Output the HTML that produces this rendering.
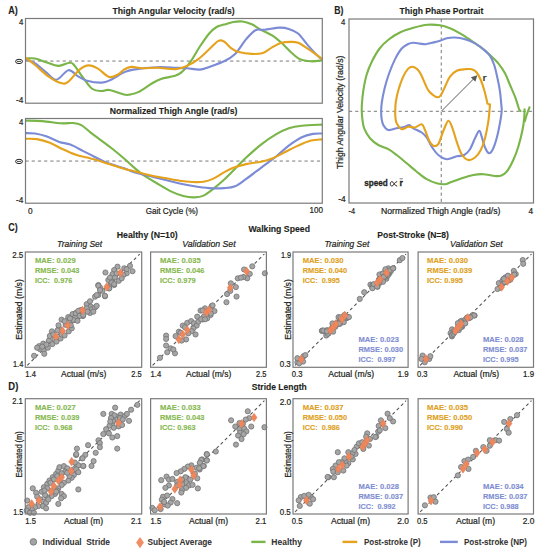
<!DOCTYPE html>
<html><head><meta charset="utf-8"><style>
html,body{margin:0;padding:0;background:#fff;width:540px;height:550px;overflow:hidden}
svg{display:block;font-family:"Liberation Sans", sans-serif}
</style></head><body>
<svg width="540" height="550" viewBox="0 0 540 550">
<text x="8.20" y="14.00" font-size="10.5" font-weight="bold" font-style="normal" fill="#231f20" stroke="#231f20" stroke-width="0.12" textLength="9.60" lengthAdjust="spacingAndGlyphs">A)</text>
<text x="334.20" y="13.90" font-size="10.5" font-weight="bold" font-style="normal" fill="#231f20" stroke="#231f20" stroke-width="0.12" textLength="9.20" lengthAdjust="spacingAndGlyphs">B)</text>
<text x="8.30" y="230.60" font-size="10.5" font-weight="bold" font-style="normal" fill="#231f20" stroke="#231f20" stroke-width="0.12" textLength="9.50" lengthAdjust="spacingAndGlyphs">C)</text>
<text x="8.30" y="390.00" font-size="10.5" font-weight="bold" font-style="normal" fill="#231f20" stroke="#231f20" stroke-width="0.12" textLength="10.00" lengthAdjust="spacingAndGlyphs">D)</text>
<text x="112.50" y="14.40" font-size="9.6" font-weight="bold" font-style="normal" fill="#231f20" stroke="#231f20" stroke-width="0.12" textLength="122.20" lengthAdjust="spacingAndGlyphs">Thigh Angular Velocity (rad/s)</text>
<text x="109.70" y="114.40" font-size="9.6" font-weight="bold" font-style="normal" fill="#231f20" stroke="#231f20" stroke-width="0.12" textLength="127.80" lengthAdjust="spacingAndGlyphs">Normalized Thigh Angle (rad/s)</text>
<line x1="25.5" y1="61.050000000000004" x2="322.3" y2="61.050000000000004" stroke="#6a6a6a" stroke-width="0.9" stroke-dasharray="3.2,3.0"/>
<text x="19.00" y="24.50" font-size="8.8" font-weight="normal" font-style="normal" fill="#231f20" stroke="#231f20" stroke-width="0.22" textLength="4.30" lengthAdjust="spacingAndGlyphs">4</text>
<text x="16.00" y="102.60" font-size="8.8" font-weight="normal" font-style="normal" fill="#231f20" stroke="#231f20" stroke-width="0.22" textLength="7.30" lengthAdjust="spacingAndGlyphs">-4</text>
<ellipse cx="19.05" cy="61.45" rx="3.45" ry="2.15" fill="none" stroke="#231f20" stroke-width="1.0"/>
<line x1="17.0" y1="61.45" x2="21.1" y2="61.45" stroke="#231f20" stroke-width="0.8"/>
<line x1="25.5" y1="161.04999999999998" x2="322.3" y2="161.04999999999998" stroke="#6a6a6a" stroke-width="0.9" stroke-dasharray="3.2,3.0"/>
<text x="19.00" y="124.50" font-size="8.8" font-weight="normal" font-style="normal" fill="#231f20" stroke="#231f20" stroke-width="0.22" textLength="4.30" lengthAdjust="spacingAndGlyphs">4</text>
<text x="16.00" y="202.60" font-size="8.8" font-weight="normal" font-style="normal" fill="#231f20" stroke="#231f20" stroke-width="0.22" textLength="7.30" lengthAdjust="spacingAndGlyphs">-4</text>
<ellipse cx="19.05" cy="161.45" rx="3.45" ry="2.15" fill="none" stroke="#231f20" stroke-width="1.0"/>
<line x1="17.0" y1="161.45" x2="21.1" y2="161.45" stroke="#231f20" stroke-width="0.8"/>
<text x="28.00" y="213.70" font-size="8.8" font-weight="normal" font-style="normal" fill="#231f20" stroke="#231f20" stroke-width="0.22" textLength="4.60" lengthAdjust="spacingAndGlyphs">0</text>
<text x="309.40" y="213.30" font-size="8.8" font-weight="normal" font-style="normal" fill="#231f20" stroke="#231f20" stroke-width="0.22" textLength="13.50" lengthAdjust="spacingAndGlyphs">100</text>
<text x="145.70" y="213.60" font-size="9.0" font-weight="normal" font-style="normal" fill="#231f20" stroke="#231f20" stroke-width="0.22" textLength="52.40" lengthAdjust="spacingAndGlyphs">Gait Cycle (%)</text>
<path d="M25.50,58.50 C27.10,58.50 31.65,57.88 35.10,58.50 C38.55,59.12 42.33,60.97 46.20,62.20 C50.07,63.43 54.43,65.80 58.30,65.90 C62.17,66.00 66.78,62.95 69.40,62.80 C72.02,62.65 71.68,62.47 74.00,65.00 C76.32,67.53 80.22,74.00 83.30,78.00 C86.38,82.00 89.42,86.83 92.50,89.00 C95.58,91.17 99.02,90.83 101.80,91.00 C104.58,91.17 105.50,89.40 109.20,90.00 C112.90,90.60 120.60,93.83 124.00,94.60 C127.40,95.37 127.13,95.05 129.60,94.60 C132.07,94.15 135.10,93.75 138.80,91.90 C142.50,90.05 148.10,85.67 151.80,83.50 C155.50,81.33 157.30,80.13 161.00,78.90 C164.70,77.67 170.60,77.18 174.00,76.10 C177.40,75.02 178.62,74.87 181.40,72.40 C184.18,69.93 187.62,65.62 190.70,61.30 C193.78,56.98 196.82,51.13 199.90,46.50 C202.98,41.87 206.42,36.75 209.20,33.50 C211.98,30.25 214.13,28.48 216.60,27.00 C219.07,25.52 221.22,25.43 224.00,24.60 C226.78,23.77 230.22,22.52 233.30,22.00 C236.38,21.48 239.42,21.12 242.50,21.50 C245.58,21.88 248.72,22.92 251.80,24.30 C254.88,25.68 257.62,27.95 261.00,29.80 C264.38,31.65 268.70,33.23 272.10,35.40 C275.50,37.57 278.30,40.03 281.40,42.80 C284.50,45.57 287.62,49.28 290.70,52.00 C293.78,54.72 296.52,57.55 299.90,59.10 C303.28,60.65 307.32,61.08 311.00,61.30 C314.68,61.52 320.17,60.55 322.00,60.40" fill="none" stroke="#79b548" stroke-width="2.1" stroke-linejoin="round" stroke-linecap="butt" />
<path d="M25.50,59.40 C27.10,60.08 31.65,61.33 35.10,63.50 C38.55,65.67 42.65,69.68 46.20,72.40 C49.75,75.12 52.70,80.17 56.40,79.80 C60.10,79.43 64.85,70.82 68.40,70.20 C71.95,69.58 74.60,74.35 77.70,76.10 C80.80,77.85 82.98,79.62 87.00,80.70 C91.02,81.78 97.80,82.75 101.80,82.60 C105.80,82.45 107.30,81.50 111.00,79.80 C114.70,78.10 120.28,74.10 124.00,72.40 C127.72,70.70 127.75,70.47 133.30,69.60 C138.85,68.73 150.20,67.50 157.30,67.20 C164.40,66.90 170.95,67.62 175.90,67.80 C180.85,67.98 183.00,68.00 187.00,68.30 C191.00,68.60 196.20,69.83 199.90,69.60 C203.60,69.37 205.18,68.28 209.20,66.90 C213.22,65.52 219.68,63.47 224.00,61.30 C228.32,59.13 231.40,57.60 235.10,53.90 C238.80,50.20 242.80,43.05 246.20,39.10 C249.60,35.15 252.42,31.75 255.50,30.20 C258.58,28.65 260.68,30.23 264.70,29.80 C268.72,29.37 275.58,27.75 279.60,27.60 C283.62,27.45 285.72,27.92 288.80,28.90 C291.88,29.88 295.02,30.88 298.10,33.50 C301.18,36.12 304.22,41.05 307.30,44.60 C310.38,48.15 314.13,52.33 316.60,54.80 C319.07,57.27 321.18,58.63 322.10,59.40" fill="none" stroke="#7b8bd5" stroke-width="2.1" stroke-linejoin="round" stroke-linecap="butt" />
<path d="M25.50,57.60 C27.10,58.83 31.35,61.92 35.10,65.00 C38.85,68.08 43.68,73.08 48.00,76.10 C52.32,79.12 57.60,82.17 61.00,83.10 C64.40,84.03 65.30,83.95 68.40,81.70 C71.50,79.45 76.20,72.32 79.60,69.60 C83.00,66.88 85.73,65.55 88.80,65.40 C91.87,65.25 94.60,66.77 98.00,68.70 C101.40,70.63 105.80,76.07 109.20,77.00 C112.60,77.93 115.93,75.53 118.40,74.30 C120.87,73.07 121.83,70.83 124.00,69.60 C126.17,68.37 128.32,67.12 131.40,66.90 C134.48,66.68 138.18,68.15 142.50,68.30 C146.82,68.45 151.73,67.67 157.30,67.80 C162.87,67.93 170.95,69.42 175.90,69.10 C180.85,68.78 183.32,67.52 187.00,65.90 C190.68,64.28 194.30,62.17 198.00,59.40 C201.70,56.63 205.80,52.38 209.20,49.30 C212.60,46.22 215.93,42.20 218.40,40.90 C220.87,39.60 221.83,40.27 224.00,41.50 C226.17,42.73 228.93,46.55 231.40,48.30 C233.87,50.05 235.40,51.07 238.80,52.00 C242.20,52.93 247.78,53.73 251.80,53.90 C255.82,54.07 259.52,54.08 262.90,53.00 C266.28,51.92 269.02,49.10 272.10,47.40 C275.18,45.70 278.30,43.72 281.40,42.80 C284.50,41.88 287.92,41.90 290.70,41.90 C293.48,41.90 295.33,41.73 298.10,42.80 C300.87,43.87 304.22,46.30 307.30,48.30 C310.38,50.30 314.13,53.00 316.60,54.80 C319.07,56.60 321.18,58.38 322.10,59.10" fill="none" stroke="#e5a21c" stroke-width="2.1" stroke-linejoin="round" stroke-linecap="butt" />
<path d="M25.50,120.60 C28.33,120.68 36.58,120.65 42.50,121.10 C48.42,121.55 55.92,122.98 61.00,123.30 C66.08,123.62 69.60,122.68 73.00,123.00 C76.40,123.32 78.45,123.60 81.40,125.20 C84.35,126.80 87.30,129.98 90.70,132.60 C94.10,135.22 98.10,138.12 101.80,140.90 C105.50,143.68 109.20,146.37 112.90,149.30 C116.60,152.23 120.60,155.57 124.00,158.50 C127.40,161.43 130.22,164.27 133.30,166.90 C136.38,169.53 138.50,171.53 142.50,174.30 C146.50,177.07 152.37,180.57 157.30,183.50 C162.23,186.43 167.77,189.80 172.10,191.90 C176.43,194.00 179.58,195.18 183.30,196.10 C187.02,197.02 191.02,197.48 194.40,197.40 C197.78,197.32 200.52,196.98 203.60,195.60 C206.68,194.22 209.50,191.73 212.90,189.10 C216.30,186.47 220.30,183.20 224.00,179.80 C227.70,176.40 231.40,172.40 235.10,168.70 C238.80,165.00 241.88,161.62 246.20,157.60 C250.52,153.58 256.05,148.47 261.00,144.60 C265.95,140.73 271.27,137.12 275.90,134.40 C280.53,131.68 284.48,129.75 288.80,128.30 C293.12,126.85 296.25,126.32 301.80,125.70 C307.35,125.08 318.72,124.78 322.10,124.60" fill="none" stroke="#79b548" stroke-width="2.1" stroke-linejoin="round" stroke-linecap="butt" />
<path d="M25.50,133.10 C27.10,133.17 31.65,132.97 35.10,133.50 C38.55,134.03 42.18,134.90 46.20,136.30 C50.22,137.70 55.18,140.52 59.20,141.90 C63.22,143.28 66.28,143.07 70.30,144.60 C74.32,146.13 79.28,149.08 83.30,151.10 C87.32,153.12 90.70,154.85 94.40,156.70 C98.10,158.55 101.80,160.67 105.50,162.20 C109.20,163.73 113.52,164.90 116.60,165.90 C119.68,166.90 120.92,167.12 124.00,168.20 C127.08,169.28 130.78,171.08 135.10,172.40 C139.42,173.72 144.97,174.87 149.90,176.10 C154.83,177.33 159.75,178.57 164.70,179.80 C169.65,181.03 174.65,182.42 179.60,183.50 C184.55,184.58 189.47,185.53 194.40,186.30 C199.33,187.07 204.27,187.80 209.20,188.10 C214.13,188.40 219.68,188.40 224.00,188.10 C228.32,187.80 231.40,187.83 235.10,186.30 C238.80,184.77 241.88,181.98 246.20,178.90 C250.52,175.82 256.05,171.50 261.00,167.80 C265.95,164.10 271.27,160.40 275.90,156.70 C280.53,153.00 284.48,148.85 288.80,145.60 C293.12,142.35 297.78,139.15 301.80,137.20 C305.82,135.25 309.52,134.52 312.90,133.90 C316.28,133.28 320.57,133.57 322.10,133.50" fill="none" stroke="#7b8bd5" stroke-width="2.1" stroke-linejoin="round" stroke-linecap="butt" />
<path d="M25.50,138.70 C27.42,138.77 32.93,138.42 37.00,139.10 C41.07,139.78 45.58,141.10 49.90,142.80 C54.22,144.50 58.57,147.30 62.90,149.30 C67.23,151.30 71.88,153.42 75.90,154.80 C79.92,156.18 83.32,156.67 87.00,157.60 C90.68,158.53 94.30,159.32 98.00,160.40 C101.70,161.48 104.87,162.72 109.20,164.10 C113.53,165.48 119.68,167.47 124.00,168.70 C128.32,169.93 130.78,170.42 135.10,171.50 C139.42,172.58 144.97,174.12 149.90,175.20 C154.83,176.28 159.75,177.08 164.70,178.00 C169.65,178.92 174.97,180.03 179.60,180.70 C184.23,181.37 188.50,181.83 192.50,182.00 C196.50,182.17 200.20,182.22 203.60,181.70 C207.00,181.18 209.50,180.45 212.90,178.90 C216.30,177.35 220.60,174.25 224.00,172.40 C227.40,170.55 229.60,169.18 233.30,167.80 C237.00,166.42 241.58,165.12 246.20,164.10 C250.82,163.08 256.68,162.63 261.00,161.70 C265.32,160.77 268.08,160.12 272.10,158.50 C276.12,156.88 280.77,154.15 285.10,152.00 C289.43,149.85 293.78,147.50 298.10,145.60 C302.42,143.70 307.00,141.63 311.00,140.60 C315.00,139.57 320.25,139.60 322.10,139.40" fill="none" stroke="#e5a21c" stroke-width="2.1" stroke-linejoin="round" stroke-linecap="butt" />
<rect x="25.50" y="18.50" width="296.80" height="84.70" fill="none" stroke="#7a7a7a" stroke-width="1.2"/>
<rect x="25.50" y="118.50" width="296.80" height="84.70" fill="none" stroke="#7a7a7a" stroke-width="1.2"/>
<line x1="441.25" y1="19.0" x2="441.25" y2="203.0" stroke="#6a6a6a" stroke-width="0.9" stroke-dasharray="3.2,3.0"/>
<line x1="349.0" y1="111.3" x2="533.5" y2="111.3" stroke="#6a6a6a" stroke-width="0.9" stroke-dasharray="3.2,3.0"/>
<text x="399.60" y="14.00" font-size="9.6" font-weight="bold" font-style="normal" fill="#231f20" stroke="#231f20" stroke-width="0.12" textLength="83.70" lengthAdjust="spacingAndGlyphs">Thigh Phase Portrait</text>
<text x="341.00" y="25.00" font-size="8.8" font-weight="normal" font-style="normal" fill="#231f20" stroke="#231f20" stroke-width="0.22" textLength="4.30" lengthAdjust="spacingAndGlyphs">4</text>
<text x="338.30" y="202.40" font-size="8.8" font-weight="normal" font-style="normal" fill="#231f20" stroke="#231f20" stroke-width="0.22" textLength="7.40" lengthAdjust="spacingAndGlyphs">-4</text>
<text x="348.50" y="213.50" font-size="8.8" font-weight="normal" font-style="normal" fill="#231f20" stroke="#231f20" stroke-width="0.22" textLength="6.50" lengthAdjust="spacingAndGlyphs">-4</text>
<text x="528.40" y="213.50" font-size="8.8" font-weight="normal" font-style="normal" fill="#231f20" stroke="#231f20" stroke-width="0.22" textLength="4.60" lengthAdjust="spacingAndGlyphs">4</text>
<text x="381.00" y="213.60" font-size="9.0" font-weight="normal" font-style="normal" fill="#231f20" stroke="#231f20" stroke-width="0.22" textLength="119.40" lengthAdjust="spacingAndGlyphs">Normalized Thigh Angle (rad/s)</text>
<text transform="translate(343.30,169.10) rotate(-90)" x="0" y="0" font-size="9.0" font-weight="normal" fill="#231f20" stroke="#231f20" stroke-width="0.22" textLength="113.50" lengthAdjust="spacingAndGlyphs">Thigh Angular Velocity (rad/s)</text>
<path d="M519.70,111.20 C519.47,110.45 519.08,109.12 518.30,106.70 C517.52,104.28 516.38,100.32 515.00,96.70 C513.62,93.08 511.67,88.90 510.00,85.00 C508.33,81.10 506.95,76.92 505.00,73.30 C503.05,69.68 500.80,66.35 498.30,63.30 C495.80,60.25 493.05,57.77 490.00,55.00 C486.95,52.23 483.33,49.25 480.00,46.70 C476.67,44.15 473.33,41.93 470.00,39.70 C466.67,37.47 463.33,35.20 460.00,33.30 C456.67,31.40 453.33,29.63 450.00,28.30 C446.67,26.97 443.73,25.88 440.00,25.30 C436.27,24.72 432.03,24.38 427.60,24.80 C423.17,25.22 417.93,26.55 413.40,27.80 C408.87,29.05 404.52,30.35 400.40,32.30 C396.28,34.25 392.17,36.80 388.70,39.50 C385.23,42.20 382.40,44.83 379.60,48.50 C376.80,52.17 374.05,57.17 371.90,61.50 C369.75,65.83 368.12,69.75 366.70,74.50 C365.28,79.25 364.20,85.08 363.40,90.00 C362.60,94.92 362.17,100.33 361.90,104.00 C361.63,107.67 361.70,109.33 361.80,112.00 C361.90,114.67 362.10,117.28 362.50,120.00 C362.90,122.72 362.95,125.25 364.20,128.30 C365.45,131.35 367.65,135.52 370.00,138.30 C372.35,141.08 375.25,143.18 378.30,145.00 C381.35,146.82 385.23,147.53 388.30,149.20 C391.37,150.87 393.63,152.65 396.70,155.00 C399.77,157.35 403.37,160.52 406.70,163.30 C410.03,166.08 413.37,169.05 416.70,171.70 C420.03,174.35 423.37,177.27 426.70,179.20 C430.03,181.13 433.65,182.47 436.70,183.30 C439.75,184.13 442.78,184.33 445.00,184.20 C447.22,184.07 447.22,183.48 450.00,182.50 C452.78,181.52 457.82,179.55 461.70,178.30 C465.58,177.05 469.70,175.68 473.30,175.00 C476.90,174.32 479.97,174.07 483.30,174.20 C486.63,174.33 490.38,175.53 493.30,175.80 C496.22,176.07 498.57,176.48 500.80,175.80 C503.03,175.12 504.62,174.33 506.70,171.70 C508.78,169.07 511.37,164.17 513.30,160.00 C515.23,155.83 516.77,151.70 518.30,146.70 C519.83,141.70 521.52,134.73 522.50,130.00 C523.48,125.27 523.85,121.88 524.20,118.30 C524.55,114.72 524.53,110.13 524.60,108.50" fill="none" stroke="#79b548" stroke-width="2.1" stroke-linejoin="round" stroke-linecap="butt" />
<path d="M524.60,122.00 C525.00,120.67 526.13,116.58 527.00,114.00 C527.87,111.42 529.33,107.75 529.80,106.50" fill="none" stroke="#79b548" stroke-width="2.1" stroke-linejoin="round" stroke-linecap="butt" />
<path d="M519.70,111.20 L521.30,110.60" fill="none" stroke="#79b548" stroke-width="2.1" stroke-linejoin="round" stroke-linecap="butt" />
<path d="M501.80,110.00 C501.50,106.95 500.72,96.98 500.00,91.70 C499.28,86.42 498.47,82.75 497.50,78.30 C496.53,73.85 495.45,68.75 494.20,65.00 C492.95,61.25 491.82,58.43 490.00,55.80 C488.18,53.17 485.80,51.28 483.30,49.20 C480.80,47.12 478.05,44.97 475.00,43.30 C471.95,41.63 468.33,40.17 465.00,39.20 C461.67,38.23 458.05,37.65 455.00,37.50 C451.95,37.35 449.20,37.75 446.70,38.30 C444.20,38.85 442.45,40.05 440.00,40.80 C437.55,41.55 434.37,42.23 432.00,42.80 C429.63,43.37 427.82,44.07 425.80,44.20 C423.78,44.33 421.97,43.85 419.90,43.60 C417.83,43.35 415.35,42.63 413.40,42.70 C411.45,42.77 410.15,43.03 408.20,44.00 C406.25,44.97 403.87,46.02 401.70,48.50 C399.53,50.98 397.37,54.57 395.20,58.90 C393.03,63.23 390.53,69.32 388.70,74.50 C386.87,79.68 385.38,85.08 384.20,90.00 C383.02,94.92 382.10,100.33 381.60,104.00 C381.10,107.67 381.22,109.67 381.20,112.00 C381.18,114.33 381.15,115.83 381.50,118.00 C381.85,120.17 382.17,123.00 383.30,125.00 C384.43,127.00 386.07,129.45 388.30,130.00 C390.53,130.55 393.92,128.85 396.70,128.30 C399.48,127.75 402.92,127.25 405.00,126.70 C407.08,126.15 407.82,124.73 409.20,125.00 C410.58,125.27 411.22,127.05 413.30,128.30 C415.38,129.55 419.47,130.97 421.70,132.50 C423.93,134.03 425.03,135.13 426.70,137.50 C428.37,139.87 429.77,143.78 431.70,146.70 C433.63,149.62 435.80,152.92 438.30,155.00 C440.80,157.08 443.63,158.98 446.70,159.20 C449.77,159.42 453.78,157.00 456.70,156.30 C459.62,155.60 461.98,156.18 464.20,155.00 C466.42,153.82 468.20,151.98 470.00,149.20 C471.80,146.42 473.47,141.37 475.00,138.30 C476.53,135.23 478.08,131.07 479.20,130.80 C480.32,130.53 480.73,133.92 481.70,136.70 C482.67,139.48 483.75,144.73 485.00,147.50 C486.25,150.27 487.82,153.17 489.20,153.30 C490.58,153.43 491.92,151.35 493.30,148.30 C494.68,145.25 496.25,140.00 497.50,135.00 C498.75,130.00 500.08,122.47 500.80,118.30 C501.52,114.13 501.63,111.38 501.80,110.00" fill="none" stroke="#7b8bd5" stroke-width="2.1" stroke-linejoin="round" stroke-linecap="butt" />
<path d="M487.50,104.20 C487.37,103.50 487.25,102.37 486.70,100.00 C486.15,97.63 485.18,93.33 484.20,90.00 C483.22,86.67 482.05,82.92 480.80,80.00 C479.55,77.08 478.22,74.30 476.70,72.50 C475.18,70.70 473.65,69.75 471.70,69.20 C469.75,68.65 467.50,68.93 465.00,69.20 C462.50,69.47 459.20,69.55 456.70,70.80 C454.20,72.05 451.95,74.05 450.00,76.70 C448.05,79.35 446.50,83.65 445.00,86.70 C443.50,89.75 442.25,93.23 441.00,95.00 C439.75,96.77 438.83,97.30 437.50,97.30 C436.17,97.30 434.65,96.35 433.00,95.00 C431.35,93.65 429.60,92.62 427.60,89.20 C425.60,85.78 422.72,77.82 421.00,74.50 C419.28,71.18 418.68,70.60 417.30,69.30 C415.92,68.00 414.22,66.82 412.70,66.70 C411.18,66.58 409.82,66.87 408.20,68.60 C406.58,70.33 404.63,73.53 403.00,77.10 C401.37,80.67 399.60,85.85 398.40,90.00 C397.20,94.15 396.33,98.33 395.80,102.00 C395.27,105.67 395.25,109.33 395.20,112.00 C395.15,114.67 395.25,116.12 395.50,118.00 C395.75,119.88 395.67,121.43 396.70,123.30 C397.73,125.17 399.77,128.63 401.70,129.20 C403.63,129.77 406.08,126.98 408.30,126.70 C410.52,126.42 412.77,127.92 415.00,127.50 C417.23,127.08 420.03,123.78 421.70,124.20 C423.37,124.62 423.75,127.23 425.00,130.00 C426.25,132.77 427.82,138.17 429.20,140.80 C430.58,143.43 431.78,145.23 433.30,145.80 C434.82,146.37 436.63,146.67 438.30,144.20 C439.97,141.73 441.63,134.90 443.30,131.00 C444.97,127.10 446.77,121.25 448.30,120.80 C449.83,120.35 451.10,124.82 452.50,128.30 C453.90,131.78 455.17,137.38 456.70,141.70 C458.23,146.02 459.77,151.15 461.70,154.20 C463.63,157.25 466.08,159.45 468.30,160.00 C470.52,160.55 472.92,159.17 475.00,157.50 C477.08,155.83 479.13,153.20 480.80,150.00 C482.47,146.80 483.75,143.02 485.00,138.30 C486.25,133.58 487.48,127.08 488.30,121.70 C489.12,116.32 489.63,108.62 489.90,106.00" fill="none" stroke="#e5a21c" stroke-width="2.1" stroke-linejoin="round" stroke-linecap="butt" />
<path d="M487.5,104.2 L489.9,104.2 L489.9,107" fill="none" stroke="#e5a21c" stroke-width="2.1" stroke-linejoin="round" stroke-linecap="butt" />
<line x1="441.25" y1="111.3" x2="474.5" y2="78.0" stroke="#5a5a5a" stroke-width="1.0"/>
<path d="M477.3,75.3 L470.8,77.2 L475.4,81.8 Z" fill="#5a5a5a"/>
<text x="482.60" y="81.00" font-size="9.6" font-weight="normal" font-style="normal" fill="#333" stroke="#333" stroke-width="0.22" textLength="4.20" lengthAdjust="spacingAndGlyphs">r</text>
<text x="364.20" y="185.70" font-size="9.2" font-weight="bold" font-style="normal" fill="#231f20" stroke="#231f20" stroke-width="0.3" textLength="23.60" lengthAdjust="spacingAndGlyphs">speed</text>
<path d="M397.2,181.6 C394.6,181.6 393.6,186.1 391.9,186.1 C390.7,186.1 390.3,184.9 390.3,183.9 C390.3,182.8 390.7,181.6 391.9,181.6 C393.6,181.6 394.6,186.1 397.2,186.1" fill="none" stroke="#231f20" stroke-width="0.95"/>
<text x="399.40" y="185.70" font-size="9.2" font-weight="bold" font-style="normal" fill="#231f20" stroke="#231f20" stroke-width="0.3" textLength="3.40" lengthAdjust="spacingAndGlyphs">r</text>
<line x1="399.6" y1="178.8" x2="402.8" y2="178.8" stroke="#231f20" stroke-width="0.6"/>
<rect x="349.00" y="19.00" width="184.50" height="184.00" fill="none" stroke="#7a7a7a" stroke-width="1.2"/>
<text x="248.40" y="231.70" font-size="9.6" font-weight="bold" font-style="normal" fill="#231f20" stroke="#231f20" stroke-width="0.12" textLength="61.60" lengthAdjust="spacingAndGlyphs">Walking Speed</text>
<text x="251.80" y="389.60" font-size="9.6" font-weight="bold" font-style="normal" fill="#231f20" stroke="#231f20" stroke-width="0.12" textLength="54.90" lengthAdjust="spacingAndGlyphs">Stride Length</text>
<text x="116.70" y="237.70" font-size="9.6" font-weight="bold" font-style="normal" fill="#231f20" stroke="#231f20" stroke-width="0.12" textLength="61.10" lengthAdjust="spacingAndGlyphs">Healthy (N=10)</text>
<text x="377.30" y="237.70" font-size="9.6" font-weight="bold" font-style="normal" fill="#231f20" stroke="#231f20" stroke-width="0.12" textLength="71.60" lengthAdjust="spacingAndGlyphs">Post-Stroke (N=8)</text>
<text x="57.10" y="247.30" font-size="9.6" font-weight="normal" font-style="italic" fill="#231f20" stroke="#231f20" stroke-width="0.22" textLength="45.10" lengthAdjust="spacingAndGlyphs">Training Set</text>
<text x="182.20" y="247.30" font-size="9.6" font-weight="normal" font-style="italic" fill="#231f20" stroke="#231f20" stroke-width="0.22" textLength="53.40" lengthAdjust="spacingAndGlyphs">Validation Set</text>
<text x="324.40" y="247.30" font-size="9.6" font-weight="normal" font-style="italic" fill="#231f20" stroke="#231f20" stroke-width="0.22" textLength="44.90" lengthAdjust="spacingAndGlyphs">Training Set</text>
<text x="450.00" y="247.30" font-size="9.6" font-weight="normal" font-style="italic" fill="#231f20" stroke="#231f20" stroke-width="0.22" textLength="52.70" lengthAdjust="spacingAndGlyphs">Validation Set</text>
<line x1="27.3" y1="365.3" x2="139.7" y2="254.0" stroke="#505050" stroke-width="1.05" stroke-dasharray="3.2,2.8"/>
<g fill="#a6a6a6" stroke="#727272" stroke-width="0.8"><circle cx="34.07" cy="355.82" r="2.6"/><circle cx="39.16" cy="346.15" r="2.6"/><circle cx="40.18" cy="349.21" r="2.6"/><circle cx="43.24" cy="343.60" r="2.6"/><circle cx="43.75" cy="350.22" r="2.6"/><circle cx="44.26" cy="353.79" r="2.6"/><circle cx="47.82" cy="347.68" r="2.6"/><circle cx="48.84" cy="340.55" r="2.6"/><circle cx="49.86" cy="335.97" r="2.6"/><circle cx="51.89" cy="331.38" r="2.6"/><circle cx="52.40" cy="344.11" r="2.6"/><circle cx="54.44" cy="339.53" r="2.6"/><circle cx="56.48" cy="341.57" r="2.6"/><circle cx="59.02" cy="328.33" r="2.6"/><circle cx="60.55" cy="338.51" r="2.6"/><circle cx="61.57" cy="319.67" r="2.6"/><circle cx="61.57" cy="334.44" r="2.6"/><circle cx="64.62" cy="335.46" r="2.6"/><circle cx="65.64" cy="324.77" r="2.6"/><circle cx="68.19" cy="317.13" r="2.6"/><circle cx="68.70" cy="331.38" r="2.6"/><circle cx="69.71" cy="322.22" r="2.6"/><circle cx="71.75" cy="328.33" r="2.6"/><circle cx="72.77" cy="314.58" r="2.6"/><circle cx="73.79" cy="320.18" r="2.6"/><circle cx="76.33" cy="318.15" r="2.6"/><circle cx="75.82" cy="313.05" r="2.6"/><circle cx="78.88" cy="316.11" r="2.6"/><circle cx="82.95" cy="316.11" r="2.6"/><circle cx="80.92" cy="310.00" r="2.6"/><circle cx="53.42" cy="334.44" r="2.6"/><circle cx="57.49" cy="330.37" r="2.6"/><circle cx="64.62" cy="321.20" r="2.6"/><circle cx="46.29" cy="344.62" r="2.6"/><circle cx="42.22" cy="346.66" r="2.6"/><circle cx="58.51" cy="325.27" r="2.6"/><circle cx="70.73" cy="325.27" r="2.6"/><circle cx="37.13" cy="347.68" r="2.6"/><circle cx="72.50" cy="314.17" r="2.6"/><circle cx="75.00" cy="317.50" r="2.6"/><circle cx="75.83" cy="313.33" r="2.6"/><circle cx="78.33" cy="310.83" r="2.6"/><circle cx="79.58" cy="315.83" r="2.6"/><circle cx="83.33" cy="315.00" r="2.6"/><circle cx="86.67" cy="304.17" r="2.6"/><circle cx="90.00" cy="301.25" r="2.6"/><circle cx="90.83" cy="306.67" r="2.6"/><circle cx="92.08" cy="309.17" r="2.6"/><circle cx="90.00" cy="312.92" r="2.6"/><circle cx="95.00" cy="307.50" r="2.6"/><circle cx="96.67" cy="305.83" r="2.6"/><circle cx="93.33" cy="311.67" r="2.6"/><circle cx="95.00" cy="296.67" r="2.6"/><circle cx="98.33" cy="295.00" r="2.6"/><circle cx="100.00" cy="287.50" r="2.6"/><circle cx="98.33" cy="285.00" r="2.6"/><circle cx="102.50" cy="290.83" r="2.6"/><circle cx="105.00" cy="296.25" r="2.6"/><circle cx="109.17" cy="288.33" r="2.6"/><circle cx="110.83" cy="284.17" r="2.6"/><circle cx="112.50" cy="281.67" r="2.6"/><circle cx="114.17" cy="285.00" r="2.6"/><circle cx="86.67" cy="308.33" r="2.6"/><circle cx="87.50" cy="311.67" r="2.6"/><circle cx="73.33" cy="320.00" r="2.6"/><circle cx="77.50" cy="320.83" r="2.6"/><circle cx="70.00" cy="318.33" r="2.6"/><circle cx="105.42" cy="272.50" r="2.6"/><circle cx="117.50" cy="266.67" r="2.6"/><circle cx="114.17" cy="270.00" r="2.6"/><circle cx="112.50" cy="274.17" r="2.6"/><circle cx="115.00" cy="277.50" r="2.6"/><circle cx="118.75" cy="280.83" r="2.6"/><circle cx="108.33" cy="280.00" r="2.6"/><circle cx="111.67" cy="282.50" r="2.6"/><circle cx="114.17" cy="284.17" r="2.6"/><circle cx="124.17" cy="268.33" r="2.6"/><circle cx="126.67" cy="273.33" r="2.6"/><circle cx="130.00" cy="265.83" r="2.6"/><circle cx="132.50" cy="271.25" r="2.6"/><circle cx="123.33" cy="275.00" r="2.6"/><circle cx="98.33" cy="285.83" r="2.6"/><circle cx="100.00" cy="290.00" r="2.6"/><circle cx="96.67" cy="295.00" r="2.6"/><circle cx="105.00" cy="295.83" r="2.6"/><circle cx="109.17" cy="288.33" r="2.6"/><circle cx="116.67" cy="273.33" r="2.6"/><circle cx="121.67" cy="278.33" r="2.6"/><circle cx="110.00" cy="277.50" r="2.6"/><circle cx="126.67" cy="269.17" r="2.6"/></g>
<g fill="#f0875c" stroke="#d9764f" stroke-width="0.4"><path d="M55.97,332.18 L59.02,336.48 L55.97,340.78 L52.92,336.48 Z"/><path d="M62.59,326.58 L65.64,330.88 L62.59,335.18 L59.54,330.88 Z"/><path d="M67.68,320.97 L70.73,325.27 L67.68,329.57 L64.63,325.27 Z"/><path d="M82.50,306.10 L85.55,310.40 L82.50,314.70 L79.45,310.40 Z"/><path d="M106.70,282.60 L109.75,286.90 L106.70,291.20 L103.65,286.90 Z"/><path d="M120.40,268.60 L123.45,272.90 L120.40,277.20 L117.35,272.90 Z"/></g>
<rect x="25.30" y="252.00" width="116.40" height="115.30" fill="none" stroke="#7a7a7a" stroke-width="1.2"/>
<line x1="152.6" y1="365.3" x2="264.4" y2="254.0" stroke="#505050" stroke-width="1.05" stroke-dasharray="3.2,2.8"/>
<g fill="#a6a6a6" stroke="#727272" stroke-width="0.8"><circle cx="160.00" cy="357.78" r="2.6"/><circle cx="166.11" cy="335.56" r="2.6"/><circle cx="166.11" cy="338.89" r="2.6"/><circle cx="166.11" cy="345.56" r="2.6"/><circle cx="170.56" cy="348.33" r="2.6"/><circle cx="167.22" cy="352.22" r="2.6"/><circle cx="175.00" cy="353.33" r="2.6"/><circle cx="173.33" cy="349.44" r="2.6"/><circle cx="175.56" cy="336.11" r="2.6"/><circle cx="178.89" cy="331.67" r="2.6"/><circle cx="182.78" cy="325.56" r="2.6"/><circle cx="187.22" cy="322.78" r="2.6"/><circle cx="191.11" cy="321.11" r="2.6"/><circle cx="193.89" cy="323.33" r="2.6"/><circle cx="196.67" cy="325.56" r="2.6"/><circle cx="193.33" cy="328.33" r="2.6"/><circle cx="195.56" cy="334.44" r="2.6"/><circle cx="191.67" cy="331.11" r="2.6"/><circle cx="186.11" cy="339.44" r="2.6"/><circle cx="181.67" cy="340.56" r="2.6"/><circle cx="180.56" cy="332.78" r="2.6"/><circle cx="185.00" cy="327.22" r="2.6"/><circle cx="197.22" cy="316.67" r="2.6"/><circle cx="200.56" cy="310.56" r="2.6"/><circle cx="205.00" cy="308.33" r="2.6"/><circle cx="202.78" cy="319.44" r="2.6"/><circle cx="207.22" cy="318.33" r="2.6"/><circle cx="210.56" cy="315.00" r="2.6"/><circle cx="211.67" cy="306.11" r="2.6"/><circle cx="198.33" cy="321.67" r="2.6"/><circle cx="188.33" cy="333.33" r="2.6"/><circle cx="252.27" cy="266.34" r="2.6"/><circle cx="249.75" cy="273.89" r="2.6"/><circle cx="244.08" cy="269.48" r="2.6"/><circle cx="247.23" cy="278.30" r="2.6"/><circle cx="243.45" cy="277.04" r="2.6"/><circle cx="237.78" cy="278.30" r="2.6"/><circle cx="240.93" cy="277.67" r="2.6"/><circle cx="264.86" cy="273.26" r="2.6"/><circle cx="230.86" cy="283.34" r="2.6"/><circle cx="235.89" cy="287.12" r="2.6"/><circle cx="227.08" cy="294.04" r="2.6"/><circle cx="230.23" cy="290.89" r="2.6"/><circle cx="236.52" cy="296.56" r="2.6"/><circle cx="226.45" cy="302.23" r="2.6"/><circle cx="212.59" cy="305.38" r="2.6"/><circle cx="214.48" cy="311.05" r="2.6"/><circle cx="210.71" cy="313.56" r="2.6"/><circle cx="202.52" cy="310.42" r="2.6"/><circle cx="203.78" cy="316.71" r="2.6"/><circle cx="201.26" cy="319.23" r="2.6"/><circle cx="205.04" cy="319.23" r="2.6"/></g>
<g fill="#f0875c" stroke="#d9764f" stroke-width="0.4"><path d="M178.89,335.14 L181.94,339.44 L178.89,343.74 L175.84,339.44 Z"/><path d="M182.78,330.14 L185.83,334.44 L182.78,338.74 L179.73,334.44 Z"/><path d="M187.22,325.70 L190.27,330.00 L187.22,334.30 L184.17,330.00 Z"/><path d="M206.11,307.92 L209.16,312.22 L206.11,316.52 L203.06,312.22 Z"/><path d="M208.89,305.70 L211.94,310.00 L208.89,314.30 L205.84,310.00 Z"/><path d="M246.60,267.07 L249.65,271.37 L246.60,275.67 L243.55,271.37 Z"/><path d="M230.23,283.45 L233.28,287.75 L230.23,292.05 L227.18,287.75 Z"/></g>
<rect x="150.60" y="252.00" width="115.80" height="115.30" fill="none" stroke="#7a7a7a" stroke-width="1.2"/>
<line x1="295.0" y1="365.3" x2="406.1" y2="254.0" stroke="#505050" stroke-width="1.05" stroke-dasharray="3.2,2.8"/>
<g fill="#a6a6a6" stroke="#727272" stroke-width="0.8"><circle cx="334.63" cy="324.03" r="2.6"/><circle cx="345.44" cy="317.40" r="2.6"/><circle cx="321.86" cy="330.88" r="2.6"/><circle cx="326.09" cy="332.31" r="2.6"/><circle cx="337.06" cy="322.51" r="2.6"/><circle cx="332.93" cy="326.06" r="2.6"/><circle cx="338.53" cy="317.06" r="2.6"/><circle cx="328.71" cy="331.75" r="2.6"/><circle cx="331.31" cy="330.94" r="2.6"/><circle cx="347.39" cy="316.95" r="2.6"/><circle cx="338.50" cy="322.47" r="2.6"/><circle cx="340.43" cy="317.26" r="2.6"/><circle cx="326.04" cy="331.25" r="2.6"/><circle cx="343.76" cy="322.19" r="2.6"/><circle cx="335.31" cy="326.82" r="2.6"/><circle cx="329.86" cy="330.57" r="2.6"/><circle cx="331.29" cy="328.83" r="2.6"/><circle cx="344.32" cy="315.11" r="2.6"/><circle cx="346.58" cy="318.13" r="2.6"/><circle cx="336.43" cy="324.78" r="2.6"/><circle cx="322.26" cy="330.54" r="2.6"/><circle cx="328.45" cy="333.61" r="2.6"/><circle cx="339.91" cy="323.84" r="2.6"/><circle cx="346.94" cy="317.79" r="2.6"/><circle cx="329.71" cy="330.72" r="2.6"/><circle cx="337.09" cy="323.25" r="2.6"/><circle cx="326.23" cy="335.54" r="2.6"/><circle cx="347.06" cy="316.70" r="2.6"/><circle cx="332.41" cy="323.46" r="2.6"/><circle cx="327.78" cy="333.73" r="2.6"/><circle cx="339.02" cy="323.60" r="2.6"/><circle cx="348.91" cy="317.10" r="2.6"/><circle cx="323.49" cy="330.51" r="2.6"/><circle cx="327.04" cy="330.15" r="2.6"/><circle cx="333.12" cy="331.63" r="2.6"/><circle cx="326.93" cy="331.36" r="2.6"/><circle cx="387.78" cy="274.49" r="2.6"/><circle cx="384.19" cy="274.71" r="2.6"/><circle cx="370.42" cy="284.67" r="2.6"/><circle cx="385.93" cy="277.55" r="2.6"/><circle cx="389.45" cy="273.27" r="2.6"/><circle cx="390.91" cy="270.92" r="2.6"/><circle cx="382.37" cy="273.90" r="2.6"/><circle cx="393.31" cy="268.16" r="2.6"/><circle cx="386.38" cy="278.74" r="2.6"/><circle cx="378.68" cy="281.13" r="2.6"/><circle cx="381.06" cy="279.11" r="2.6"/><circle cx="379.99" cy="282.75" r="2.6"/><circle cx="372.54" cy="284.98" r="2.6"/><circle cx="387.80" cy="271.04" r="2.6"/><circle cx="372.24" cy="287.46" r="2.6"/><circle cx="379.42" cy="274.49" r="2.6"/><circle cx="386.75" cy="273.18" r="2.6"/><circle cx="383.09" cy="281.73" r="2.6"/><circle cx="377.81" cy="284.50" r="2.6"/><circle cx="378.94" cy="279.46" r="2.6"/><circle cx="388.37" cy="268.31" r="2.6"/><circle cx="376.66" cy="285.88" r="2.6"/><circle cx="389.63" cy="270.44" r="2.6"/><circle cx="393.10" cy="268.41" r="2.6"/><circle cx="377.54" cy="286.77" r="2.6"/><circle cx="382.87" cy="273.46" r="2.6"/><circle cx="372.42" cy="288.24" r="2.6"/><circle cx="380.09" cy="280.02" r="2.6"/><circle cx="386.07" cy="276.76" r="2.6"/><circle cx="373.88" cy="284.17" r="2.6"/><circle cx="383.93" cy="276.60" r="2.6"/><circle cx="383.87" cy="276.80" r="2.6"/><circle cx="388.07" cy="275.23" r="2.6"/><circle cx="387.32" cy="274.05" r="2.6"/><circle cx="385.38" cy="269.25" r="2.6"/><circle cx="377.13" cy="286.49" r="2.6"/><circle cx="297.40" cy="362.22" r="2.6"/><circle cx="297.40" cy="358.22" r="2.6"/><circle cx="303.56" cy="356.22" r="2.6"/><circle cx="305.31" cy="355.11" r="2.6"/><circle cx="303.11" cy="361.56" r="2.6"/><circle cx="299.20" cy="363.31" r="2.6"/><circle cx="359.78" cy="298.89" r="2.6"/><circle cx="364.22" cy="292.22" r="2.6"/><circle cx="399.78" cy="260.22" r="2.6"/><circle cx="402.44" cy="258.00" r="2.6"/></g>
<g fill="#f0875c" stroke="#d9764f" stroke-width="0.4"><path d="M301.20,355.10 L304.25,359.40 L301.20,363.70 L298.15,359.40 Z"/><path d="M330.40,325.90 L333.45,330.20 L330.40,334.50 L327.35,330.20 Z"/><path d="M333.31,322.90 L336.36,327.20 L333.31,331.50 L330.26,327.20 Z"/><path d="M335.91,319.61 L338.96,323.91 L335.91,328.21 L332.86,323.91 Z"/><path d="M341.91,314.81 L344.96,319.11 L341.91,323.41 L338.86,319.11 Z"/><path d="M344.80,311.10 L347.85,315.40 L344.80,319.70 L341.75,315.40 Z"/><path d="M377.20,278.50 L380.25,282.80 L377.20,287.10 L374.15,282.80 Z"/><path d="M380.20,275.10 L383.25,279.40 L380.20,283.70 L377.15,279.40 Z"/><path d="M386.51,268.50 L389.56,272.80 L386.51,277.10 L383.46,272.80 Z"/></g>
<rect x="293.00" y="252.00" width="115.10" height="115.30" fill="none" stroke="#7a7a7a" stroke-width="1.2"/>
<line x1="420.1" y1="365.3" x2="531.5" y2="254.0" stroke="#505050" stroke-width="1.05" stroke-dasharray="3.2,2.8"/>
<g fill="#a6a6a6" stroke="#727272" stroke-width="0.8"><circle cx="461.54" cy="320.83" r="2.6"/><circle cx="455.29" cy="330.84" r="2.6"/><circle cx="469.29" cy="318.12" r="2.6"/><circle cx="451.99" cy="329.36" r="2.6"/><circle cx="461.38" cy="322.99" r="2.6"/><circle cx="472.51" cy="315.20" r="2.6"/><circle cx="474.63" cy="315.50" r="2.6"/><circle cx="464.36" cy="322.43" r="2.6"/><circle cx="458.24" cy="325.98" r="2.6"/><circle cx="462.11" cy="326.72" r="2.6"/><circle cx="465.25" cy="319.60" r="2.6"/><circle cx="466.92" cy="317.64" r="2.6"/><circle cx="474.01" cy="315.47" r="2.6"/><circle cx="450.58" cy="333.17" r="2.6"/><circle cx="451.89" cy="336.43" r="2.6"/><circle cx="458.75" cy="330.14" r="2.6"/><circle cx="459.11" cy="327.63" r="2.6"/><circle cx="461.83" cy="322.18" r="2.6"/><circle cx="461.34" cy="326.83" r="2.6"/><circle cx="469.84" cy="317.31" r="2.6"/><circle cx="453.67" cy="331.36" r="2.6"/><circle cx="451.96" cy="335.00" r="2.6"/><circle cx="461.99" cy="324.75" r="2.6"/><circle cx="460.49" cy="321.44" r="2.6"/><circle cx="470.38" cy="317.39" r="2.6"/><circle cx="459.71" cy="327.91" r="2.6"/><circle cx="465.23" cy="323.46" r="2.6"/><circle cx="453.46" cy="333.88" r="2.6"/><circle cx="454.73" cy="332.05" r="2.6"/><circle cx="457.88" cy="323.21" r="2.6"/><circle cx="504.05" cy="282.28" r="2.6"/><circle cx="508.86" cy="279.83" r="2.6"/><circle cx="500.48" cy="287.35" r="2.6"/><circle cx="500.16" cy="287.51" r="2.6"/><circle cx="509.40" cy="279.22" r="2.6"/><circle cx="503.43" cy="279.05" r="2.6"/><circle cx="502.64" cy="283.26" r="2.6"/><circle cx="509.78" cy="277.19" r="2.6"/><circle cx="502.24" cy="283.43" r="2.6"/><circle cx="505.11" cy="282.16" r="2.6"/><circle cx="505.40" cy="277.29" r="2.6"/><circle cx="510.50" cy="279.51" r="2.6"/><circle cx="498.83" cy="283.08" r="2.6"/><circle cx="505.64" cy="279.97" r="2.6"/><circle cx="508.89" cy="280.45" r="2.6"/><circle cx="505.46" cy="282.03" r="2.6"/><circle cx="502.40" cy="280.93" r="2.6"/><circle cx="507.16" cy="280.96" r="2.6"/><circle cx="506.12" cy="281.67" r="2.6"/><circle cx="515.73" cy="273.99" r="2.6"/><circle cx="504.13" cy="282.33" r="2.6"/><circle cx="506.36" cy="280.19" r="2.6"/><circle cx="497.55" cy="289.00" r="2.6"/><circle cx="505.10" cy="281.91" r="2.6"/><circle cx="513.77" cy="270.89" r="2.6"/><circle cx="504.58" cy="282.00" r="2.6"/><circle cx="503.88" cy="278.74" r="2.6"/><circle cx="513.89" cy="274.66" r="2.6"/><circle cx="507.93" cy="275.69" r="2.6"/><circle cx="514.29" cy="274.66" r="2.6"/><circle cx="422.56" cy="355.56" r="2.6"/><circle cx="429.22" cy="358.89" r="2.6"/><circle cx="424.78" cy="362.22" r="2.6"/><circle cx="421.44" cy="358.89" r="2.6"/><circle cx="430.33" cy="356.22" r="2.6"/><circle cx="522.78" cy="260.00" r="2.6"/><circle cx="523.22" cy="263.78" r="2.6"/></g>
<g fill="#f0875c" stroke="#d9764f" stroke-width="0.4"><path d="M425.89,354.59 L428.94,358.89 L425.89,363.19 L422.84,358.89 Z"/><path d="M455.60,326.30 L458.65,330.60 L455.60,334.90 L452.55,330.60 Z"/><path d="M458.11,322.90 L461.16,327.20 L458.11,331.50 L455.06,327.20 Z"/><path d="M461.11,319.61 L464.16,323.91 L461.11,328.21 L458.06,323.91 Z"/><path d="M467.80,313.50 L470.85,317.80 L467.80,322.10 L464.75,317.80 Z"/><path d="M501.60,282.74 L504.65,287.04 L501.60,291.34 L498.55,287.04 Z"/><path d="M507.31,276.94 L510.36,281.24 L507.31,285.54 L504.26,281.24 Z"/><path d="M511.71,273.14 L514.76,277.44 L511.71,281.74 L508.66,277.44 Z"/></g>
<rect x="418.10" y="252.00" width="115.40" height="115.30" fill="none" stroke="#7a7a7a" stroke-width="1.2"/>
<line x1="27.3" y1="512.0" x2="139.7" y2="400.7" stroke="#505050" stroke-width="1.05" stroke-dasharray="3.2,2.8"/>
<g fill="#a6a6a6" stroke="#727272" stroke-width="0.8"><circle cx="76.11" cy="455.00" r="2.6"/><circle cx="82.22" cy="458.33" r="2.6"/><circle cx="83.33" cy="466.11" r="2.6"/><circle cx="78.33" cy="465.56" r="2.6"/><circle cx="77.22" cy="471.67" r="2.6"/><circle cx="73.89" cy="475.00" r="2.6"/><circle cx="71.67" cy="477.78" r="2.6"/><circle cx="68.33" cy="480.56" r="2.6"/><circle cx="63.89" cy="482.78" r="2.6"/><circle cx="61.67" cy="485.00" r="2.6"/><circle cx="58.33" cy="488.33" r="2.6"/><circle cx="57.22" cy="490.56" r="2.6"/><circle cx="55.00" cy="493.89" r="2.6"/><circle cx="51.67" cy="496.11" r="2.6"/><circle cx="47.22" cy="497.22" r="2.6"/><circle cx="45.00" cy="495.00" r="2.6"/><circle cx="41.67" cy="491.67" r="2.6"/><circle cx="43.89" cy="487.22" r="2.6"/><circle cx="47.22" cy="483.89" r="2.6"/><circle cx="49.44" cy="480.56" r="2.6"/><circle cx="52.78" cy="477.22" r="2.6"/><circle cx="56.11" cy="473.89" r="2.6"/><circle cx="58.33" cy="470.56" r="2.6"/><circle cx="59.44" cy="467.22" r="2.6"/><circle cx="63.89" cy="466.11" r="2.6"/><circle cx="67.22" cy="468.33" r="2.6"/><circle cx="65.00" cy="471.67" r="2.6"/><circle cx="61.67" cy="473.33" r="2.6"/><circle cx="57.22" cy="476.11" r="2.6"/><circle cx="53.89" cy="479.44" r="2.6"/><circle cx="50.56" cy="482.78" r="2.6"/><circle cx="47.22" cy="488.33" r="2.6"/><circle cx="44.44" cy="490.56" r="2.6"/><circle cx="36.11" cy="492.78" r="2.6"/><circle cx="32.78" cy="488.33" r="2.6"/><circle cx="37.22" cy="496.67" r="2.6"/><circle cx="40.56" cy="499.44" r="2.6"/><circle cx="43.33" cy="501.67" r="2.6"/><circle cx="46.11" cy="502.78" r="2.6"/><circle cx="48.33" cy="499.44" r="2.6"/><circle cx="42.78" cy="506.11" r="2.6"/><circle cx="38.33" cy="506.11" r="2.6"/><circle cx="35.00" cy="507.22" r="2.6"/><circle cx="31.67" cy="509.44" r="2.6"/><circle cx="28.33" cy="507.22" r="2.6"/><circle cx="27.22" cy="500.56" r="2.6"/><circle cx="26.67" cy="510.56" r="2.6"/><circle cx="30.00" cy="512.78" r="2.6"/><circle cx="33.89" cy="512.78" r="2.6"/><circle cx="46.11" cy="508.33" r="2.6"/><circle cx="58.33" cy="503.89" r="2.6"/><circle cx="78.33" cy="489.44" r="2.6"/><circle cx="61.67" cy="493.89" r="2.6"/><circle cx="63.89" cy="496.11" r="2.6"/><circle cx="61.11" cy="498.33" r="2.6"/><circle cx="52.78" cy="490.56" r="2.6"/><circle cx="56.11" cy="491.67" r="2.6"/><circle cx="59.44" cy="480.56" r="2.6"/><circle cx="69.44" cy="476.11" r="2.6"/><circle cx="67.22" cy="472.78" r="2.6"/><circle cx="75.00" cy="468.33" r="2.6"/><circle cx="117.22" cy="416.67" r="2.6"/><circle cx="115.83" cy="419.44" r="2.6"/><circle cx="112.36" cy="424.31" r="2.6"/><circle cx="118.61" cy="426.39" r="2.6"/><circle cx="120.69" cy="414.58" r="2.6"/><circle cx="113.06" cy="420.83" r="2.6"/><circle cx="124.86" cy="415.97" r="2.6"/><circle cx="109.58" cy="425.69" r="2.6"/><circle cx="137.36" cy="404.86" r="2.6"/><circle cx="131.11" cy="409.72" r="2.6"/><circle cx="126.94" cy="413.89" r="2.6"/><circle cx="129.03" cy="420.83" r="2.6"/><circle cx="115.14" cy="407.64" r="2.6"/><circle cx="103.33" cy="413.89" r="2.6"/><circle cx="111.67" cy="413.89" r="2.6"/><circle cx="114.44" cy="415.28" r="2.6"/><circle cx="110.97" cy="418.06" r="2.6"/><circle cx="110.28" cy="421.53" r="2.6"/><circle cx="120.00" cy="418.06" r="2.6"/><circle cx="122.78" cy="419.44" r="2.6"/><circle cx="122.08" cy="425.00" r="2.6"/><circle cx="113.75" cy="427.78" r="2.6"/><circle cx="106.11" cy="429.17" r="2.6"/><circle cx="108.89" cy="433.33" r="2.6"/><circle cx="103.33" cy="434.03" r="2.6"/><circle cx="112.36" cy="437.50" r="2.6"/><circle cx="117.22" cy="436.11" r="2.6"/><circle cx="98.47" cy="440.28" r="2.6"/><circle cx="99.86" cy="443.06" r="2.6"/><circle cx="99.86" cy="447.22" r="2.6"/><circle cx="88.06" cy="445.14" r="2.6"/><circle cx="76.94" cy="448.61" r="2.6"/><circle cx="76.25" cy="454.17" r="2.6"/><circle cx="95.69" cy="452.78" r="2.6"/><circle cx="85.28" cy="454.86" r="2.6"/><circle cx="82.50" cy="458.33" r="2.6"/><circle cx="117.22" cy="448.61" r="2.6"/><circle cx="93.61" cy="461.11" r="2.6"/><circle cx="91.53" cy="465.97" r="2.6"/><circle cx="83.19" cy="465.97" r="2.6"/><circle cx="78.33" cy="465.28" r="2.6"/><circle cx="76.25" cy="469.44" r="2.6"/><circle cx="78.33" cy="472.22" r="2.6"/><circle cx="74.86" cy="462.50" r="2.6"/></g>
<g fill="#f0875c" stroke="#d9764f" stroke-width="0.4"><path d="M71.67,457.37 L74.72,461.67 L71.67,465.97 L68.62,461.67 Z"/><path d="M71.11,466.81 L74.16,471.11 L71.11,475.41 L68.06,471.11 Z"/><path d="M61.67,472.92 L64.72,477.22 L61.67,481.52 L58.62,477.22 Z"/><path d="M58.33,476.26 L61.38,480.56 L58.33,484.86 L55.28,480.56 Z"/><path d="M53.89,481.81 L56.94,486.11 L53.89,490.41 L50.84,486.11 Z"/><path d="M51.11,487.37 L54.16,491.67 L51.11,495.97 L48.06,491.67 Z"/><path d="M38.89,496.26 L41.94,500.56 L38.89,504.86 L35.84,500.56 Z"/><path d="M31.67,499.59 L34.72,503.89 L31.67,508.19 L28.62,503.89 Z"/><path d="M118.61,418.62 L121.66,422.92 L118.61,427.22 L115.56,422.92 Z"/></g>
<rect x="25.30" y="398.70" width="116.40" height="115.30" fill="none" stroke="#7a7a7a" stroke-width="1.2"/>
<line x1="152.6" y1="512.0" x2="264.4" y2="400.7" stroke="#505050" stroke-width="1.05" stroke-dasharray="3.2,2.8"/>
<g fill="#a6a6a6" stroke="#727272" stroke-width="0.8"><circle cx="206.74" cy="454.14" r="2.6"/><circle cx="206.74" cy="460.05" r="2.6"/><circle cx="202.01" cy="459.46" r="2.6"/><circle cx="200.24" cy="463.00" r="2.6"/><circle cx="203.78" cy="465.96" r="2.6"/><circle cx="199.65" cy="469.50" r="2.6"/><circle cx="196.69" cy="467.73" r="2.6"/><circle cx="194.92" cy="473.64" r="2.6"/><circle cx="197.28" cy="478.37" r="2.6"/><circle cx="191.37" cy="465.37" r="2.6"/><circle cx="187.83" cy="466.55" r="2.6"/><circle cx="184.28" cy="468.91" r="2.6"/><circle cx="180.73" cy="471.28" r="2.6"/><circle cx="176.60" cy="473.05" r="2.6"/><circle cx="185.46" cy="477.19" r="2.6"/><circle cx="181.91" cy="479.55" r="2.6"/><circle cx="166.55" cy="476.60" r="2.6"/><circle cx="161.23" cy="480.14" r="2.6"/><circle cx="168.91" cy="479.55" r="2.6"/><circle cx="172.46" cy="478.96" r="2.6"/><circle cx="177.19" cy="481.91" r="2.6"/><circle cx="183.10" cy="484.28" r="2.6"/><circle cx="186.64" cy="483.10" r="2.6"/><circle cx="189.01" cy="485.46" r="2.6"/><circle cx="192.55" cy="484.87" r="2.6"/><circle cx="190.19" cy="479.55" r="2.6"/><circle cx="186.05" cy="487.83" r="2.6"/><circle cx="168.91" cy="485.46" r="2.6"/><circle cx="165.37" cy="487.83" r="2.6"/><circle cx="177.19" cy="485.46" r="2.6"/><circle cx="181.91" cy="490.19" r="2.6"/><circle cx="181.32" cy="492.55" r="2.6"/><circle cx="197.87" cy="488.42" r="2.6"/><circle cx="163.00" cy="496.69" r="2.6"/><circle cx="167.14" cy="495.51" r="2.6"/><circle cx="172.46" cy="499.05" r="2.6"/><circle cx="170.69" cy="502.60" r="2.6"/><circle cx="164.78" cy="504.37" r="2.6"/><circle cx="177.19" cy="503.19" r="2.6"/><circle cx="167.73" cy="505.56" r="2.6"/><circle cx="161.82" cy="499.65" r="2.6"/><circle cx="152.36" cy="507.92" r="2.6"/><circle cx="154.73" cy="510.28" r="2.6"/><circle cx="160.64" cy="509.10" r="2.6"/><circle cx="164.18" cy="502.01" r="2.6"/><circle cx="247.78" cy="411.25" r="2.6"/><circle cx="249.17" cy="418.19" r="2.6"/><circle cx="245.69" cy="419.58" r="2.6"/><circle cx="231.11" cy="420.28" r="2.6"/><circle cx="235.28" cy="426.53" r="2.6"/><circle cx="239.44" cy="423.06" r="2.6"/><circle cx="242.92" cy="423.75" r="2.6"/><circle cx="251.25" cy="426.53" r="2.6"/><circle cx="264.44" cy="427.22" r="2.6"/><circle cx="239.44" cy="429.31" r="2.6"/><circle cx="244.31" cy="428.61" r="2.6"/><circle cx="246.39" cy="431.39" r="2.6"/><circle cx="240.14" cy="432.78" r="2.6"/><circle cx="243.61" cy="434.17" r="2.6"/><circle cx="238.06" cy="435.56" r="2.6"/><circle cx="241.53" cy="439.03" r="2.6"/><circle cx="235.97" cy="444.58" r="2.6"/><circle cx="215.83" cy="451.53" r="2.6"/><circle cx="206.81" cy="454.31" r="2.6"/><circle cx="206.81" cy="460.56" r="2.6"/><circle cx="201.25" cy="459.86" r="2.6"/><circle cx="199.86" cy="462.64" r="2.6"/><circle cx="203.33" cy="466.11" r="2.6"/><circle cx="199.17" cy="468.19" r="2.6"/></g>
<g fill="#f0875c" stroke="#d9764f" stroke-width="0.4"><path d="M191.37,465.20 L194.42,469.50 L191.37,473.80 L188.32,469.50 Z"/><path d="M193.74,471.11 L196.79,475.41 L193.74,479.71 L190.69,475.41 Z"/><path d="M180.14,475.84 L183.19,480.14 L180.14,484.44 L177.09,480.14 Z"/><path d="M179.55,480.57 L182.60,484.87 L179.55,489.17 L176.50,484.87 Z"/><path d="M174.82,484.71 L177.87,489.01 L174.82,493.31 L171.77,489.01 Z"/><path d="M160.05,502.44 L163.10,506.74 L160.05,511.04 L157.00,506.74 Z"/><path d="M241.53,419.45 L244.58,423.75 L241.53,428.05 L238.48,423.75 Z"/><path d="M254.03,413.20 L257.08,417.50 L254.03,421.80 L250.98,417.50 Z"/></g>
<rect x="150.60" y="398.70" width="115.80" height="115.30" fill="none" stroke="#7a7a7a" stroke-width="1.2"/>
<line x1="295.0" y1="512.0" x2="406.1" y2="400.7" stroke="#505050" stroke-width="1.05" stroke-dasharray="3.2,2.8"/>
<g fill="#a6a6a6" stroke="#727272" stroke-width="0.8"><circle cx="337.78" cy="452.22" r="2.6"/><circle cx="355.56" cy="453.89" r="2.6"/><circle cx="352.22" cy="453.33" r="2.6"/><circle cx="352.78" cy="459.44" r="2.6"/><circle cx="348.33" cy="463.33" r="2.6"/><circle cx="345.56" cy="461.11" r="2.6"/><circle cx="343.33" cy="470.56" r="2.6"/><circle cx="335.56" cy="465.56" r="2.6"/><circle cx="332.78" cy="468.89" r="2.6"/><circle cx="333.33" cy="471.67" r="2.6"/><circle cx="328.33" cy="477.22" r="2.6"/><circle cx="333.89" cy="477.22" r="2.6"/><circle cx="367.22" cy="433.33" r="2.6"/><circle cx="376.11" cy="436.67" r="2.6"/><circle cx="378.33" cy="431.67" r="2.6"/><circle cx="370.00" cy="438.89" r="2.6"/><circle cx="368.89" cy="445.56" r="2.6"/><circle cx="356.67" cy="446.67" r="2.6"/><circle cx="358.89" cy="443.33" r="2.6"/><circle cx="362.22" cy="442.22" r="2.6"/><circle cx="363.33" cy="448.89" r="2.6"/><circle cx="348.33" cy="452.22" r="2.6"/><circle cx="344.44" cy="458.33" r="2.6"/><circle cx="341.67" cy="462.22" r="2.6"/><circle cx="346.67" cy="465.56" r="2.6"/><circle cx="338.89" cy="462.22" r="2.6"/><circle cx="337.78" cy="472.22" r="2.6"/><circle cx="351.11" cy="456.67" r="2.6"/><circle cx="354.44" cy="450.00" r="2.6"/><circle cx="366.11" cy="436.67" r="2.6"/><circle cx="300.89" cy="497.00" r="2.6"/><circle cx="304.22" cy="495.89" r="2.6"/><circle cx="310.89" cy="497.00" r="2.6"/><circle cx="313.11" cy="499.22" r="2.6"/><circle cx="309.78" cy="503.67" r="2.6"/><circle cx="299.78" cy="505.89" r="2.6"/><circle cx="298.67" cy="500.33" r="2.6"/><circle cx="308.67" cy="494.78" r="2.6"/><circle cx="387.56" cy="413.67" r="2.6"/><circle cx="393.11" cy="421.44" r="2.6"/><circle cx="378.67" cy="425.89" r="2.6"/><circle cx="379.78" cy="430.33" r="2.6"/><circle cx="385.33" cy="428.11" r="2.6"/><circle cx="389.78" cy="418.11" r="2.6"/><circle cx="380.89" cy="420.33" r="2.6"/><circle cx="375.33" cy="437.00" r="2.6"/><circle cx="327.56" cy="477.00" r="2.6"/></g>
<g fill="#f0875c" stroke="#d9764f" stroke-width="0.4"><path d="M338.33,464.59 L341.38,468.89 L338.33,473.19 L335.28,468.89 Z"/><path d="M342.22,460.70 L345.27,465.00 L342.22,469.30 L339.17,465.00 Z"/><path d="M348.89,452.37 L351.94,456.67 L348.89,460.97 L345.84,456.67 Z"/><path d="M362.78,442.37 L365.83,446.67 L362.78,450.97 L359.73,446.67 Z"/><path d="M365.00,439.03 L368.05,443.33 L365.00,447.63 L361.95,443.33 Z"/><path d="M367.22,435.70 L370.27,440.00 L367.22,444.30 L364.17,440.00 Z"/><path d="M306.44,496.03 L309.49,500.33 L306.44,504.63 L303.39,500.33 Z"/><path d="M383.11,419.37 L386.16,423.67 L383.11,427.97 L380.06,423.67 Z"/></g>
<rect x="293.00" y="398.70" width="115.10" height="115.30" fill="none" stroke="#7a7a7a" stroke-width="1.2"/>
<line x1="420.1" y1="512.0" x2="531.5" y2="400.7" stroke="#505050" stroke-width="1.05" stroke-dasharray="3.2,2.8"/>
<g fill="#a6a6a6" stroke="#727272" stroke-width="0.8"><circle cx="457.90" cy="475.40" r="2.6"/><circle cx="461.10" cy="467.00" r="2.6"/><circle cx="464.40" cy="461.00" r="2.6"/><circle cx="468.10" cy="459.60" r="2.6"/><circle cx="468.50" cy="468.90" r="2.6"/><circle cx="473.10" cy="456.90" r="2.6"/><circle cx="475.90" cy="450.80" r="2.6"/><circle cx="483.30" cy="447.10" r="2.6"/><circle cx="486.60" cy="450.80" r="2.6"/><circle cx="489.80" cy="445.70" r="2.6"/><circle cx="489.80" cy="440.20" r="2.6"/><circle cx="495.80" cy="440.20" r="2.6"/><circle cx="499.10" cy="440.60" r="2.6"/><circle cx="504.20" cy="421.90" r="2.6"/><circle cx="510.30" cy="419.00" r="2.6"/><circle cx="506.80" cy="428.90" r="2.6"/><circle cx="508.70" cy="432.70" r="2.6"/><circle cx="517.00" cy="415.20" r="2.6"/><circle cx="424.90" cy="505.30" r="2.6"/><circle cx="430.50" cy="497.50" r="2.6"/><circle cx="433.80" cy="497.20" r="2.6"/><circle cx="435.50" cy="501.70" r="2.6"/></g>
<g fill="#f0875c" stroke="#d9764f" stroke-width="0.4"><path d="M463.00,464.60 L466.05,468.90 L463.00,473.20 L459.95,468.90 Z"/><path d="M466.20,460.00 L469.25,464.30 L466.20,468.60 L463.15,464.30 Z"/><path d="M476.90,448.80 L479.95,453.10 L476.90,457.40 L473.85,453.10 Z"/><path d="M484.70,445.10 L487.75,449.40 L484.70,453.70 L481.65,449.40 Z"/><path d="M492.60,437.70 L495.65,442.00 L492.60,446.30 L489.55,442.00 Z"/><path d="M509.00,419.20 L512.05,423.50 L509.00,427.80 L505.95,423.50 Z"/><path d="M431.10,496.50 L434.15,500.80 L431.10,505.10 L428.05,500.80 Z"/></g>
<rect x="418.10" y="398.70" width="115.40" height="115.30" fill="none" stroke="#7a7a7a" stroke-width="1.2"/>
<text x="35.00" y="263.30" font-size="8.0" font-weight="bold" font-style="normal" fill="#85b84f" stroke="#85b84f" stroke-width="0.12" textLength="40.70" lengthAdjust="spacingAndGlyphs">MAE: 0.029</text>
<text x="35.00" y="273.15" font-size="8.0" font-weight="bold" font-style="normal" fill="#85b84f" stroke="#85b84f" stroke-width="0.12" textLength="44.40" lengthAdjust="spacingAndGlyphs">RMSE: 0.043</text>
<text x="35.00" y="283.00" font-size="8.0" font-weight="bold" font-style="normal" fill="#85b84f" stroke="#85b84f" stroke-width="0.12" textLength="37.30" lengthAdjust="spacingAndGlyphs">ICC:&#160; 0.976</text>
<text x="160.00" y="263.30" font-size="8.0" font-weight="bold" font-style="normal" fill="#85b84f" stroke="#85b84f" stroke-width="0.12" textLength="40.70" lengthAdjust="spacingAndGlyphs">MAE: 0.035</text>
<text x="160.00" y="273.15" font-size="8.0" font-weight="bold" font-style="normal" fill="#85b84f" stroke="#85b84f" stroke-width="0.12" textLength="44.40" lengthAdjust="spacingAndGlyphs">RMSE: 0.046</text>
<text x="160.00" y="283.00" font-size="8.0" font-weight="bold" font-style="normal" fill="#85b84f" stroke="#85b84f" stroke-width="0.12" textLength="35.60" lengthAdjust="spacingAndGlyphs">ICC: 0.979</text>
<text x="302.70" y="263.30" font-size="8.0" font-weight="bold" font-style="normal" fill="#e0a020" stroke="#e0a020" stroke-width="0.12" textLength="40.90" lengthAdjust="spacingAndGlyphs">MAE: 0.030</text>
<text x="302.70" y="273.15" font-size="8.0" font-weight="bold" font-style="normal" fill="#e0a020" stroke="#e0a020" stroke-width="0.12" textLength="44.40" lengthAdjust="spacingAndGlyphs">RMSE: 0.040</text>
<text x="302.70" y="283.00" font-size="8.0" font-weight="bold" font-style="normal" fill="#e0a020" stroke="#e0a020" stroke-width="0.12" textLength="37.10" lengthAdjust="spacingAndGlyphs">ICC:&#160; 0.995</text>
<text x="427.00" y="263.30" font-size="8.0" font-weight="bold" font-style="normal" fill="#e0a020" stroke="#e0a020" stroke-width="0.12" textLength="41.10" lengthAdjust="spacingAndGlyphs">MAE: 0.030</text>
<text x="427.00" y="273.15" font-size="8.0" font-weight="bold" font-style="normal" fill="#e0a020" stroke="#e0a020" stroke-width="0.12" textLength="45.10" lengthAdjust="spacingAndGlyphs">RMSE: 0.039</text>
<text x="427.00" y="283.00" font-size="8.0" font-weight="bold" font-style="normal" fill="#e0a020" stroke="#e0a020" stroke-width="0.12" textLength="36.00" lengthAdjust="spacingAndGlyphs">ICC: 0.995</text>
<text x="358.50" y="342.40" font-size="8.0" font-weight="bold" font-style="normal" fill="#7e8dd2" stroke="#7e8dd2" stroke-width="0.12" textLength="40.40" lengthAdjust="spacingAndGlyphs">MAE: 0.023</text>
<text x="358.50" y="352.25" font-size="8.0" font-weight="bold" font-style="normal" fill="#7e8dd2" stroke="#7e8dd2" stroke-width="0.12" textLength="44.60" lengthAdjust="spacingAndGlyphs">RMSE: 0.030</text>
<text x="358.50" y="362.10" font-size="8.0" font-weight="bold" font-style="normal" fill="#7e8dd2" stroke="#7e8dd2" stroke-width="0.12" textLength="37.10" lengthAdjust="spacingAndGlyphs">ICC:&#160; 0.997</text>
<text x="483.00" y="342.40" font-size="8.0" font-weight="bold" font-style="normal" fill="#7e8dd2" stroke="#7e8dd2" stroke-width="0.12" textLength="40.60" lengthAdjust="spacingAndGlyphs">MAE: 0.028</text>
<text x="483.00" y="352.25" font-size="8.0" font-weight="bold" font-style="normal" fill="#7e8dd2" stroke="#7e8dd2" stroke-width="0.12" textLength="44.40" lengthAdjust="spacingAndGlyphs">RMSE: 0.037</text>
<text x="483.00" y="362.10" font-size="8.0" font-weight="bold" font-style="normal" fill="#7e8dd2" stroke="#7e8dd2" stroke-width="0.12" textLength="35.60" lengthAdjust="spacingAndGlyphs">ICC: 0.995</text>
<text x="35.00" y="410.30" font-size="8.0" font-weight="bold" font-style="normal" fill="#85b84f" stroke="#85b84f" stroke-width="0.12" textLength="40.70" lengthAdjust="spacingAndGlyphs">MAE: 0.027</text>
<text x="35.00" y="420.15" font-size="8.0" font-weight="bold" font-style="normal" fill="#85b84f" stroke="#85b84f" stroke-width="0.12" textLength="44.40" lengthAdjust="spacingAndGlyphs">RMSE: 0.039</text>
<text x="35.00" y="430.00" font-size="8.0" font-weight="bold" font-style="normal" fill="#85b84f" stroke="#85b84f" stroke-width="0.12" textLength="37.30" lengthAdjust="spacingAndGlyphs">ICC:&#160; 0.968</text>
<text x="160.00" y="410.30" font-size="8.0" font-weight="bold" font-style="normal" fill="#85b84f" stroke="#85b84f" stroke-width="0.12" textLength="40.70" lengthAdjust="spacingAndGlyphs">MAE: 0.033</text>
<text x="160.00" y="420.15" font-size="8.0" font-weight="bold" font-style="normal" fill="#85b84f" stroke="#85b84f" stroke-width="0.12" textLength="44.40" lengthAdjust="spacingAndGlyphs">RMSE: 0.043</text>
<text x="160.00" y="430.00" font-size="8.0" font-weight="bold" font-style="normal" fill="#85b84f" stroke="#85b84f" stroke-width="0.12" textLength="35.60" lengthAdjust="spacingAndGlyphs">ICC: 0.963</text>
<text x="302.70" y="410.30" font-size="8.0" font-weight="bold" font-style="normal" fill="#e0a020" stroke="#e0a020" stroke-width="0.12" textLength="40.90" lengthAdjust="spacingAndGlyphs">MAE: 0.037</text>
<text x="302.70" y="420.15" font-size="8.0" font-weight="bold" font-style="normal" fill="#e0a020" stroke="#e0a020" stroke-width="0.12" textLength="44.40" lengthAdjust="spacingAndGlyphs">RMSE: 0.050</text>
<text x="302.70" y="430.00" font-size="8.0" font-weight="bold" font-style="normal" fill="#e0a020" stroke="#e0a020" stroke-width="0.12" textLength="37.10" lengthAdjust="spacingAndGlyphs">ICC:&#160; 0.986</text>
<text x="427.00" y="410.30" font-size="8.0" font-weight="bold" font-style="normal" fill="#e0a020" stroke="#e0a020" stroke-width="0.12" textLength="41.10" lengthAdjust="spacingAndGlyphs">MAE: 0.035</text>
<text x="427.00" y="420.15" font-size="8.0" font-weight="bold" font-style="normal" fill="#e0a020" stroke="#e0a020" stroke-width="0.12" textLength="45.10" lengthAdjust="spacingAndGlyphs">RMSE: 0.050</text>
<text x="427.00" y="430.00" font-size="8.0" font-weight="bold" font-style="normal" fill="#e0a020" stroke="#e0a020" stroke-width="0.12" textLength="36.00" lengthAdjust="spacingAndGlyphs">ICC: 0.990</text>
<text x="358.50" y="489.20" font-size="8.0" font-weight="bold" font-style="normal" fill="#7e8dd2" stroke="#7e8dd2" stroke-width="0.12" textLength="40.40" lengthAdjust="spacingAndGlyphs">MAE: 0.028</text>
<text x="358.50" y="499.05" font-size="8.0" font-weight="bold" font-style="normal" fill="#7e8dd2" stroke="#7e8dd2" stroke-width="0.12" textLength="44.60" lengthAdjust="spacingAndGlyphs">RMSE: 0.037</text>
<text x="358.50" y="508.90" font-size="8.0" font-weight="bold" font-style="normal" fill="#7e8dd2" stroke="#7e8dd2" stroke-width="0.12" textLength="37.10" lengthAdjust="spacingAndGlyphs">ICC:&#160; 0.992</text>
<text x="483.00" y="489.20" font-size="8.0" font-weight="bold" font-style="normal" fill="#7e8dd2" stroke="#7e8dd2" stroke-width="0.12" textLength="40.60" lengthAdjust="spacingAndGlyphs">MAE: 0.034</text>
<text x="483.00" y="499.05" font-size="8.0" font-weight="bold" font-style="normal" fill="#7e8dd2" stroke="#7e8dd2" stroke-width="0.12" textLength="44.40" lengthAdjust="spacingAndGlyphs">RMSE: 0.037</text>
<text x="483.00" y="508.90" font-size="8.0" font-weight="bold" font-style="normal" fill="#7e8dd2" stroke="#7e8dd2" stroke-width="0.12" textLength="35.60" lengthAdjust="spacingAndGlyphs">ICC: 0.988</text>
<text x="12.20" y="257.80" font-size="8.8" font-weight="normal" font-style="normal" fill="#231f20" stroke="#231f20" stroke-width="0.22" textLength="11.10" lengthAdjust="spacingAndGlyphs">2.5</text>
<text x="13.00" y="367.20" font-size="8.8" font-weight="normal" font-style="normal" fill="#231f20" stroke="#231f20" stroke-width="0.22" textLength="10.30" lengthAdjust="spacingAndGlyphs">1.4</text>
<text x="281.00" y="257.60" font-size="8.8" font-weight="normal" font-style="normal" fill="#231f20" stroke="#231f20" stroke-width="0.22" textLength="10.20" lengthAdjust="spacingAndGlyphs">1.9</text>
<text x="279.70" y="367.40" font-size="8.8" font-weight="normal" font-style="normal" fill="#231f20" stroke="#231f20" stroke-width="0.22" textLength="11.10" lengthAdjust="spacingAndGlyphs">0.3</text>
<text x="25.30" y="376.60" font-size="8.8" font-weight="normal" font-style="normal" fill="#231f20" stroke="#231f20" stroke-width="0.22" textLength="10.60" lengthAdjust="spacingAndGlyphs">1.4</text>
<text x="131.30" y="376.60" font-size="8.8" font-weight="normal" font-style="normal" fill="#231f20" stroke="#231f20" stroke-width="0.22" textLength="10.40" lengthAdjust="spacingAndGlyphs">2.5</text>
<text x="150.60" y="376.60" font-size="8.8" font-weight="normal" font-style="normal" fill="#231f20" stroke="#231f20" stroke-width="0.22" textLength="10.60" lengthAdjust="spacingAndGlyphs">1.4</text>
<text x="256.00" y="376.60" font-size="8.8" font-weight="normal" font-style="normal" fill="#231f20" stroke="#231f20" stroke-width="0.22" textLength="10.40" lengthAdjust="spacingAndGlyphs">2.5</text>
<text x="291.80" y="376.60" font-size="8.8" font-weight="normal" font-style="normal" fill="#231f20" stroke="#231f20" stroke-width="0.22" textLength="10.60" lengthAdjust="spacingAndGlyphs">0.3</text>
<text x="397.70" y="376.60" font-size="8.8" font-weight="normal" font-style="normal" fill="#231f20" stroke="#231f20" stroke-width="0.22" textLength="11.00" lengthAdjust="spacingAndGlyphs">1.9</text>
<text x="416.90" y="376.60" font-size="8.8" font-weight="normal" font-style="normal" fill="#231f20" stroke="#231f20" stroke-width="0.22" textLength="10.60" lengthAdjust="spacingAndGlyphs">0.3</text>
<text x="523.10" y="376.60" font-size="8.8" font-weight="normal" font-style="normal" fill="#231f20" stroke="#231f20" stroke-width="0.22" textLength="11.00" lengthAdjust="spacingAndGlyphs">1.9</text>
<text x="61.00" y="376.70" font-size="8.8" font-weight="normal" font-style="normal" fill="#231f20" stroke="#231f20" stroke-width="0.22" textLength="45.30" lengthAdjust="spacingAndGlyphs">Actual (m/s)</text>
<text x="186.00" y="376.70" font-size="8.8" font-weight="normal" font-style="normal" fill="#231f20" stroke="#231f20" stroke-width="0.22" textLength="45.30" lengthAdjust="spacingAndGlyphs">Actual (m/s)</text>
<text x="328.30" y="376.70" font-size="8.8" font-weight="normal" font-style="normal" fill="#231f20" stroke="#231f20" stroke-width="0.22" textLength="45.90" lengthAdjust="spacingAndGlyphs">Actual (m/s)</text>
<text x="453.40" y="376.70" font-size="8.8" font-weight="normal" font-style="normal" fill="#231f20" stroke="#231f20" stroke-width="0.22" textLength="45.80" lengthAdjust="spacingAndGlyphs">Actual (m/s)</text>
<text transform="translate(22.30,339.80) rotate(-90)" x="0" y="0" font-size="8.8" font-weight="normal" fill="#231f20" stroke="#231f20" stroke-width="0.22" textLength="60.60" lengthAdjust="spacingAndGlyphs">Estimated (m/s)</text>
<text transform="translate(290.60,339.80) rotate(-90)" x="0" y="0" font-size="8.8" font-weight="normal" fill="#231f20" stroke="#231f20" stroke-width="0.22" textLength="60.60" lengthAdjust="spacingAndGlyphs">Estimated (m/s)</text>
<text x="12.20" y="404.00" font-size="8.8" font-weight="normal" font-style="normal" fill="#231f20" stroke="#231f20" stroke-width="0.22" textLength="10.60" lengthAdjust="spacingAndGlyphs">2.1</text>
<text x="13.30" y="514.60" font-size="8.8" font-weight="normal" font-style="normal" fill="#231f20" stroke="#231f20" stroke-width="0.22" textLength="10.00" lengthAdjust="spacingAndGlyphs">1.5</text>
<text x="279.70" y="405.00" font-size="8.8" font-weight="normal" font-style="normal" fill="#231f20" stroke="#231f20" stroke-width="0.22" textLength="11.50" lengthAdjust="spacingAndGlyphs">2.0</text>
<text x="279.70" y="514.60" font-size="8.8" font-weight="normal" font-style="normal" fill="#231f20" stroke="#231f20" stroke-width="0.22" textLength="11.10" lengthAdjust="spacingAndGlyphs">0.5</text>
<text x="25.30" y="523.60" font-size="8.8" font-weight="normal" font-style="normal" fill="#231f20" stroke="#231f20" stroke-width="0.22" textLength="10.60" lengthAdjust="spacingAndGlyphs">1.5</text>
<text x="130.90" y="523.60" font-size="8.8" font-weight="normal" font-style="normal" fill="#231f20" stroke="#231f20" stroke-width="0.22" textLength="10.80" lengthAdjust="spacingAndGlyphs">2.1</text>
<text x="150.60" y="523.60" font-size="8.8" font-weight="normal" font-style="normal" fill="#231f20" stroke="#231f20" stroke-width="0.22" textLength="10.60" lengthAdjust="spacingAndGlyphs">1.5</text>
<text x="255.60" y="523.60" font-size="8.8" font-weight="normal" font-style="normal" fill="#231f20" stroke="#231f20" stroke-width="0.22" textLength="10.80" lengthAdjust="spacingAndGlyphs">2.1</text>
<text x="291.80" y="523.60" font-size="8.8" font-weight="normal" font-style="normal" fill="#231f20" stroke="#231f20" stroke-width="0.22" textLength="10.60" lengthAdjust="spacingAndGlyphs">0.5</text>
<text x="397.30" y="523.60" font-size="8.8" font-weight="normal" font-style="normal" fill="#231f20" stroke="#231f20" stroke-width="0.22" textLength="11.60" lengthAdjust="spacingAndGlyphs">2.0</text>
<text x="416.90" y="523.60" font-size="8.8" font-weight="normal" font-style="normal" fill="#231f20" stroke="#231f20" stroke-width="0.22" textLength="10.60" lengthAdjust="spacingAndGlyphs">0.5</text>
<text x="522.70" y="523.60" font-size="8.8" font-weight="normal" font-style="normal" fill="#231f20" stroke="#231f20" stroke-width="0.22" textLength="11.60" lengthAdjust="spacingAndGlyphs">2.0</text>
<text x="63.90" y="523.70" font-size="8.8" font-weight="normal" font-style="normal" fill="#231f20" stroke="#231f20" stroke-width="0.22" textLength="39.20" lengthAdjust="spacingAndGlyphs">Actual (m)</text>
<text x="188.90" y="523.70" font-size="8.8" font-weight="normal" font-style="normal" fill="#231f20" stroke="#231f20" stroke-width="0.22" textLength="39.20" lengthAdjust="spacingAndGlyphs">Actual (m)</text>
<text x="331.00" y="523.70" font-size="8.8" font-weight="normal" font-style="normal" fill="#231f20" stroke="#231f20" stroke-width="0.22" textLength="39.00" lengthAdjust="spacingAndGlyphs">Actual (m)</text>
<text x="456.00" y="523.70" font-size="8.8" font-weight="normal" font-style="normal" fill="#231f20" stroke="#231f20" stroke-width="0.22" textLength="39.00" lengthAdjust="spacingAndGlyphs">Actual (m)</text>
<text transform="translate(22.30,477.60) rotate(-90)" x="0" y="0" font-size="8.8" font-weight="normal" fill="#231f20" stroke="#231f20" stroke-width="0.22" textLength="46.40" lengthAdjust="spacingAndGlyphs">Estimated (m)</text>
<text transform="translate(290.60,477.60) rotate(-90)" x="0" y="0" font-size="8.8" font-weight="normal" fill="#231f20" stroke="#231f20" stroke-width="0.22" textLength="46.40" lengthAdjust="spacingAndGlyphs">Estimated (m)</text>
<circle cx="33.4" cy="541.9" r="3.3" fill="#a3a3a3" stroke="#747474" stroke-width="0.8"/>
<text x="42.60" y="545.20" font-size="9.0" font-weight="bold" font-style="normal" fill="#333" stroke="#333" stroke-width="0.05" textLength="67.40" lengthAdjust="spacingAndGlyphs">Individual&#160;&#160;Stride</text>
<path d="M140,537.0 L143.9,542.6 L140,548.2 L136.1,542.6 Z" fill="#f28e66"/>
<text x="147.50" y="545.40" font-size="9.0" font-weight="bold" font-style="normal" fill="#333" stroke="#333" stroke-width="0.05" textLength="64.50" lengthAdjust="spacingAndGlyphs">Subject Average</text>
<line x1="251.3" y1="541.9" x2="265.5" y2="541.9" stroke="#79b548" stroke-width="2.4"/>
<text x="271.30" y="545.40" font-size="9.0" font-weight="bold" font-style="normal" fill="#333" stroke="#333" stroke-width="0.05" textLength="30.70" lengthAdjust="spacingAndGlyphs">Healthy</text>
<line x1="342.5" y1="541.9" x2="357.2" y2="541.9" stroke="#e5a21c" stroke-width="2.4"/>
<text x="364.00" y="545.40" font-size="9.0" font-weight="bold" font-style="normal" fill="#333" stroke="#333" stroke-width="0.05" textLength="56.70" lengthAdjust="spacingAndGlyphs">Post-stroke (P)</text>
<line x1="440.0" y1="541.9" x2="457.8" y2="541.9" stroke="#7b8bd5" stroke-width="2.4"/>
<text x="464.00" y="545.40" font-size="9.0" font-weight="bold" font-style="normal" fill="#333" stroke="#333" stroke-width="0.05" textLength="63.00" lengthAdjust="spacingAndGlyphs">Post-stroke (NP)</text>
</svg></body></html>
